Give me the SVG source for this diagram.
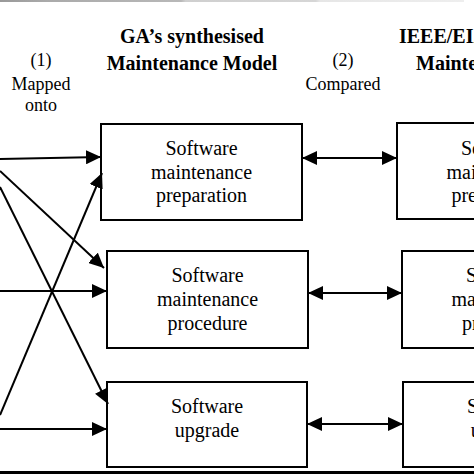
<svg xmlns="http://www.w3.org/2000/svg" width="474" height="474" viewBox="0 0 474 474">
<defs>
<marker id="ah" markerUnits="userSpaceOnUse" markerWidth="15" markerHeight="14" refX="15" refY="7" orient="auto-start-reverse" viewBox="0 0 15 14">
<path d="M0,0 L15,7 L0,14 z" fill="#000"/>
</marker>
<linearGradient id="topbar" x1="0" x2="1" y1="0" y2="0">
<stop offset="0" stop-color="#999"/>
<stop offset="0.1" stop-color="#aaa"/>
<stop offset="0.39" stop-color="#b8b8b8"/>
<stop offset="0.4" stop-color="#cfcfcf"/>
<stop offset="0.68" stop-color="#d6d6d6"/>
<stop offset="0.69" stop-color="#e6e6e6"/>
<stop offset="1" stop-color="#eee"/>
</linearGradient>
</defs>
<style>
.box{fill:#fff;stroke:#000;stroke-width:2}
.t{font-family:"Liberation Serif","Times New Roman",serif;font-size:20px;fill:#000;text-anchor:middle}
.h{font-family:"Liberation Serif","Times New Roman",serif;font-size:20px;font-weight:bold;fill:#000}
.l{font-family:"Liberation Serif","Times New Roman",serif;font-size:18px;fill:#000;text-anchor:middle}
.c{fill:none;stroke:#000;stroke-width:2}
.e{marker-end:url(#ah)}
.d{marker-start:url(#ah);marker-end:url(#ah)}
</style>
<rect x="0" y="0" width="474" height="474" fill="#fff"/>
<rect x="0" y="0" width="464" height="2" fill="url(#topbar)"/>
<rect x="0" y="471" width="474" height="3" fill="#000"/>

<g id="labels">
<text class="l" x="41" y="66">(1)</text>
<text class="l" x="41" y="90">Mapped</text>
<text class="l" x="41" y="111">onto</text>
<text class="l" x="343" y="66">(2)</text>
<text class="l" x="343" y="90">Compared</text>
<text class="h" x="192" y="43" text-anchor="middle">GA’s synthesised</text>
<text class="h" x="192" y="70" text-anchor="middle">Maintenance Model</text>
<text class="h" x="399" y="43">IEEE/EIA</text>
<text class="h" x="416" y="70">Maintenance Model</text>
</g>

<g id="ga-preparation">
<rect class="box" x="101" y="124" width="201" height="96"/>
<text class="t" x="201.5" y="155">Software</text>
<text class="t" x="201.5" y="179">maintenance</text>
<text class="t" x="201.5" y="202">preparation</text>
</g>
<g id="ga-procedure">
<rect class="box" x="107" y="251" width="201" height="97"/>
<text class="t" x="207.5" y="282">Software</text>
<text class="t" x="207.5" y="306">maintenance</text>
<text class="t" x="207.5" y="330">procedure</text>
</g>
<g id="ga-upgrade">
<rect class="box" x="107" y="382" width="200" height="85"/>
<text class="t" x="207" y="413">Software</text>
<text class="t" x="207" y="437">upgrade</text>
</g>
<g id="ieee-preparation">
<rect class="box" x="397" y="123" width="200" height="96"/>
<text class="t" x="497" y="155">Software</text>
<text class="t" x="497" y="179">maintenance</text>
<text class="t" x="497" y="202">preparation</text>
</g>
<g id="ieee-procedure">
<rect class="box" x="402" y="251" width="200" height="97"/>
<text class="t" x="502" y="282">Software</text>
<text class="t" x="502" y="306">maintenance</text>
<text class="t" x="502" y="330">procedure</text>
</g>
<g id="ieee-upgrade">
<rect class="box" x="403" y="382" width="200" height="85"/>
<text class="t" x="503" y="413">Software</text>
<text class="t" x="503" y="437">upgrade</text>
</g>

<g id="connectors">
<line class="c e" x1="0" y1="159" x2="101" y2="157"/>
<line class="c e" x1="0" y1="171" x2="104" y2="268"/>
<line class="c e" x1="0" y1="187" x2="108" y2="404"/>
<line class="c e" x1="0" y1="415" x2="102" y2="173"/>
<line class="c e" x1="0" y1="291" x2="107" y2="291"/>
<line class="c e" x1="0" y1="429" x2="107" y2="429"/>
<line class="c d" x1="302" y1="158" x2="397" y2="158"/>
<line class="c d" x1="308" y1="293" x2="402" y2="293"/>
<line class="c d" x1="307" y1="424" x2="403" y2="424"/>
</g>
</svg>
